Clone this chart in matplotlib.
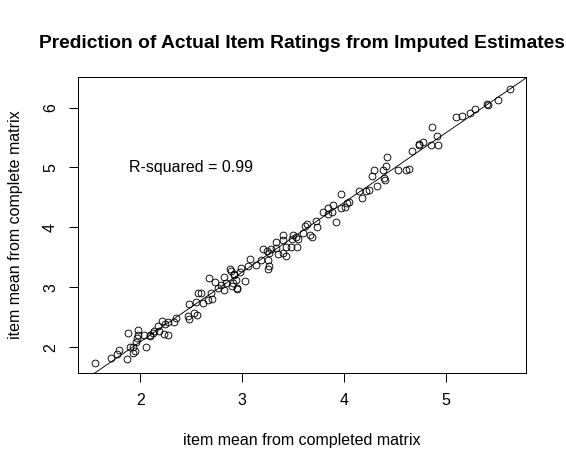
import matplotlib
matplotlib.use("Agg")
import matplotlib.pyplot as plt
import numpy as np

plt.rcParams['font.family'] = ['Liberation Sans', 'DejaVu Sans']

# item means: completed (imputed) matrix vs complete matrix
completed = np.array([
    5.63, 5.51, 5.41, 5.42, 5.29, 5.24, 5.16, 5.10, 4.87, 4.92, 4.93, 4.86, 4.78, 4.74,
    4.74, 4.67, 4.42, 4.41, 4.38, 4.30, 4.28, 4.39, 4.40, 4.33, 4.53, 4.61, 4.64, 4.25,
    3.97, 4.15, 4.22, 4.18, 4.05, 4.03, 3.97, 4.01, 3.89, 3.84, 3.88, 3.84, 3.79, 3.92,
    3.73, 3.74, 3.64, 3.62, 3.67, 3.69, 3.60, 3.50, 3.53, 3.55, 3.49, 3.40, 3.40, 3.33,
    3.43, 3.48, 3.54, 3.40, 3.43, 3.35, 3.28, 3.21, 3.24, 3.26, 3.33, 3.19, 3.25, 3.25,
    3.26, 3.14, 3.08, 3.06, 2.99, 2.98, 2.89, 2.92, 2.94, 3.03, 2.90, 2.95,
    2.88, 2.92, 2.67, 2.82, 2.73, 2.79, 2.84, 2.91, 2.95, 2.82, 2.76, 2.69, 2.57, 2.60,
    2.70, 2.66, 2.62, 2.55, 2.48, 2.53, 2.47, 2.56, 2.48, 2.35, 2.33, 2.27, 2.24, 2.21,
    2.17, 2.18, 2.27, 2.23, 2.13, 2.09, 2.12, 2.09, 2.04, 1.98, 1.98, 1.88, 1.97, 1.96,
    1.93, 1.90, 2.06, 1.95, 1.93, 1.79, 1.77, 1.71, 1.87, 1.55,
])
complete = np.array([
    6.31, 6.12, 6.06, 6.05, 5.98, 5.91, 5.86, 5.85, 5.67, 5.53, 5.38, 5.38, 5.43, 5.40,
    5.37, 5.28, 5.18, 5.02, 4.96, 4.95, 4.85, 4.83, 4.79, 4.69, 4.96, 4.95, 4.98, 4.62,
    4.55, 4.61, 4.61, 4.49, 4.42, 4.40, 4.32, 4.34, 4.37, 4.33, 4.25, 4.23, 4.25, 4.09,
    4.11, 4.00, 4.06, 4.03, 3.88, 3.84, 3.90, 3.87, 3.84, 3.81, 3.81, 3.87, 3.79, 3.76,
    3.68, 3.67, 3.67, 3.58, 3.53, 3.55, 3.64, 3.64, 3.61, 3.58, 3.66, 3.45, 3.46, 3.30,
    3.36, 3.37, 3.47, 3.36, 3.32, 3.26, 3.28, 3.20, 3.13, 3.11, 3.02, 2.97,
    3.30, 3.22, 3.16, 3.18, 3.09, 3.04, 3.08, 3.08, 2.99, 2.96, 2.99, 2.90, 2.90, 2.90,
    2.80, 2.78, 2.74, 2.76, 2.72, 2.57, 2.52, 2.53, 2.47, 2.49, 2.42, 2.42, 2.39, 2.43,
    2.36, 2.27, 2.21, 2.22, 2.27, 2.21, 2.24, 2.18, 2.20, 2.29, 2.21, 2.23, 2.16, 2.09,
    2.00, 2.01, 2.00, 1.93, 1.91, 1.96, 1.88, 1.82, 1.81, 1.74,
])

fig = plt.figure(figsize=(566 / 72, 472 / 72), dpi=72)
ax = fig.add_axes([78 / 566, 1 - 373 / 472, 448 / 566, 296 / 472])

ax.plot(completed, complete, 'o', mfc='none', mec='black', ms=6.8, mew=0.9)

# regression line (abline of lm fit)
b, a = np.polyfit(completed, complete, 1)
xl = np.array([1.0, 7.0])
ax.plot(xl, a + b * xl, color='black', lw=0.9)

r2 = np.corrcoef(completed, complete)[0, 1] ** 2
ax.text(2.5, 5.0, "R-squared = %.2f" % r2, ha='center', va='center', fontsize=16)

ax.set_xlim(1.387, 5.79)
ax.set_ylim(1.57, 6.51)
ax.set_xticks([2, 3, 4, 5])
ax.set_yticks([2, 3, 4, 5, 6])
ax.tick_params(length=9, width=1, labelsize=16, pad=11)
for lab in ax.get_yticklabels():
    lab.set_rotation(90)
    lab.set_va('center')
for s in ax.spines.values():
    s.set_linewidth(1)

ax.set_xlabel("item mean from completed matrix", fontsize=16, labelpad=25)
ax.set_ylabel("item mean from complete matrix", fontsize=16, labelpad=20)
ax.set_title("Prediction of Actual Item Ratings from Imputed Estimates",
             fontsize=19.2, fontweight='bold', pad=29)

fig.savefig("out.png", dpi=72)
